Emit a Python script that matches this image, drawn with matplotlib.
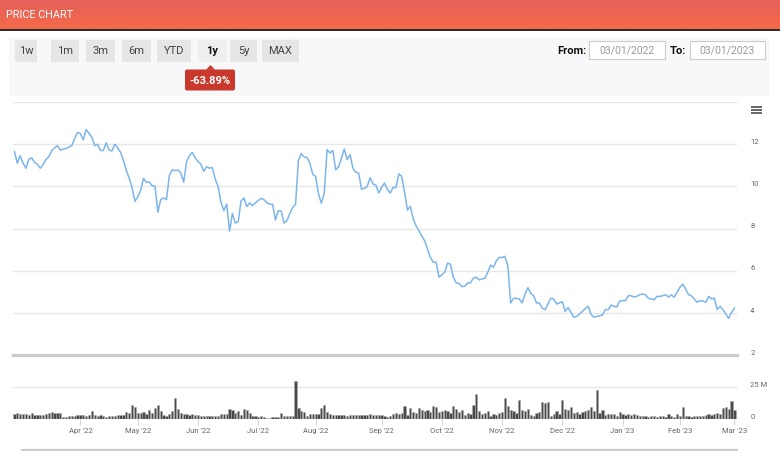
import numpy as np
import pandas as pd
import matplotlib.pyplot as plt
from matplotlib.patches import Rectangle, FancyBboxPatch, Polygon
from matplotlib.colors import LinearSegmentedColormap
from matplotlib.transforms import ScaledTranslation

plt.rcParams['font.family'] = ['Roboto', 'DejaVu Sans']

# ---- data -------------------------------------------------------------
# daily close, one value per trading day 2022-03-01 .. 2023-03-01
close = [
    11.66, 11.10, 11.45, 11.10, 10.86, 11.27, 11.35, 11.14, 11.05, 10.86,
    11.03, 11.27, 11.41, 11.69, 11.82, 11.93, 11.72, 11.76, 11.80, 11.86,
    11.93, 12.27, 12.56, 12.50, 12.21, 12.69, 12.52, 12.33, 11.93, 11.99,
    11.70, 11.70, 12.07, 11.72, 11.68, 12.00, 11.83, 11.61, 11.22, 10.76,
    10.38, 9.95, 9.29, 9.50, 9.81, 10.38, 10.19, 10.21, 10.03, 10.00,
    8.77, 9.37, 9.45, 9.37, 10.50, 10.79, 10.74, 10.78, 10.63, 10.19,
    11.17, 11.45, 11.61, 11.36, 11.17, 11.05, 10.71, 10.93, 10.86, 10.89,
    10.35, 10.00, 9.24, 8.85, 9.16, 7.87, 8.72, 8.26, 8.32, 9.30,
    9.45, 9.04, 9.21, 9.08, 9.21, 9.33, 9.43, 9.37, 9.22, 9.15,
    9.15, 8.40, 8.85, 8.83, 8.26, 8.37, 8.72, 9.00, 9.15, 11.22,
    11.55, 11.39, 11.36, 11.10, 10.57, 10.47, 9.64, 9.20, 9.67, 11.74,
    11.58, 11.70, 10.79, 10.92, 11.33, 11.77, 11.27, 11.50, 10.86, 10.67,
    10.63, 9.87, 9.90, 10.00, 10.41, 10.11, 10.06, 9.68, 9.95, 10.16,
    9.86, 9.68, 9.95, 9.94, 10.59, 10.47, 9.71, 8.88, 9.05, 8.48,
    8.13, 7.90, 7.65, 7.42, 7.03, 6.63, 6.40, 6.40, 5.69, 5.80,
    5.92, 6.36, 6.30, 5.69, 5.42, 5.40, 5.24, 5.26, 5.42, 5.42,
    5.65, 5.69, 5.56, 5.61, 5.64, 5.92, 6.27, 6.16, 6.47, 6.63,
    6.62, 6.68, 6.24, 4.47, 4.69, 4.69, 4.66, 4.47, 4.89, 5.19,
    4.92, 4.81, 4.47, 4.47, 4.22, 4.15, 4.42, 4.69, 4.66, 4.42,
    4.47, 4.53, 4.07, 4.26, 4.02, 3.79, 3.83, 3.94, 4.07, 4.20,
    4.31, 3.94, 3.79, 3.83, 3.86, 3.90, 4.15, 4.15, 4.37, 4.31,
    4.28, 4.56, 4.58, 4.58, 4.81, 4.81, 4.75, 4.78, 4.86, 4.89,
    4.86, 4.69, 4.66, 4.62, 4.78, 4.78, 4.81, 4.86, 4.75, 4.85,
    4.74, 4.97, 5.21, 5.37, 5.13, 4.86, 4.81, 4.66, 4.50, 4.58,
    4.56, 4.50, 4.78, 4.66, 4.69, 4.15, 4.31, 4.15, 3.94, 3.74,
    4.02, 4.22,
]

# daily volume in millions
volume_m = [
    3.6, 4.3, 3.6, 4.1, 3.9, 2.8, 4.8, 3.0, 3.2, 3.4,
    3.3, 3.6, 4.3, 5.8, 4.8, 4.6, 4.5, 1.8, 1.5, 2.0,
    2.2, 2.5, 3.0, 2.8, 3.0, 2.6, 3.3, 6.5, 3.2, 2.5,
    3.0, 2.2, 1.8, 2.0, 2.6, 2.4, 2.9, 3.0, 3.2, 5.5,
    5.0, 11.0, 9.0, 5.0, 5.0, 5.3, 4.0, 7.0, 5.0, 8.4,
    11.3, 6.0, 3.0, 2.0, 4.0, 6.3, 16.3, 7.9, 4.5, 3.8,
    4.2, 3.5, 4.0, 3.3, 2.8, 2.5, 2.2, 2.0, 2.4, 2.0,
    2.3, 2.6, 3.8, 4.2, 3.6, 7.9, 7.1, 4.5, 6.1, 3.0,
    7.9, 7.1, 4.5, 2.0, 2.6, 1.3, 2.2, 1.5, 1.0, 0.8,
    1.8, 1.2, 1.5, 4.5, 2.6, 2.2, 2.6, 2.4, 30.0, 8.7,
    6.1, 5.3, 2.6, 3.9, 3.9, 3.9, 3.9, 8.7, 11.0, 5.3,
    3.9, 3.2, 3.4, 3.0, 2.8, 3.2, 2.6, 3.0, 3.4, 3.1,
    2.8, 3.3, 3.0, 2.9, 3.6, 2.8, 3.2, 3.4, 3.0, 2.5,
    1.8, 2.5, 4.0, 4.5, 4.0, 4.4, 10.0, 3.4, 8.4, 5.3,
    4.5, 8.4, 7.1, 6.1, 7.1, 5.5, 10.0, 9.2, 5.3, 6.1,
    7.1, 6.1, 4.5, 10.0, 7.9, 5.3, 7.1, 3.4, 4.5, 3.9,
    11.3, 19.7, 6.1, 3.9, 4.5, 6.1, 2.6, 3.9, 3.4, 4.5,
    5.3, 16.6, 10.5, 7.1, 6.1, 4.5, 15.0, 7.1, 6.1, 7.9,
    3.4, 2.6, 4.5, 5.3, 13.1, 12.3, 13.1, 2.6, 3.9, 6.1,
    3.9, 15.0, 7.9, 7.1, 9.2, 4.5, 5.3, 3.9, 5.3, 6.6,
    7.1, 9.2, 6.1, 23.0, 4.5, 7.1, 3.4, 3.9, 3.9, 3.9,
    2.6, 5.3, 3.9, 3.4, 3.9, 3.4, 3.6, 2.8, 2.6, 2.0,
    2.4, 1.8, 2.6, 2.2, 1.8, 2.0, 2.4, 1.6, 3.9, 2.6,
    1.8, 3.9, 2.0, 9.2, 2.6, 2.2, 1.8, 2.6, 2.0, 2.4,
    2.0, 3.0, 3.9, 3.2, 3.9, 4.5, 3.9, 8.4, 9.2, 7.9, 14.0, 7.1,
]

holidays = ['2022-04-15', '2022-05-30', '2022-06-20', '2022-07-04', '2022-09-05',
            '2022-11-24', '2022-12-26', '2023-01-02', '2023-01-16', '2023-02-20']
buttons = ['1w', '1m', '3m', '6m', 'YTD', '1y', '5y', 'MAX']
selected = '1y'
change_label = '-63.89%'
date_from, date_to = '03/01/2022', '03/01/2023'
price_ticks = [2, 4, 6, 8, 10, 12]

days = pd.bdate_range('2022-03-01', '2023-03-01')
days = days[~days.isin(pd.to_datetime(holidays))]
idx = np.arange(len(days))
month_starts = pd.date_range('2022-04-01', '2023-03-01', freq='MS')
month_idx = [int(np.searchsorted(days, m)) for m in month_starts]
month_lbl = [m.strftime("%b '%y") for m in month_starts]

# ---- layout helpers (pixels) -----------------------------------------
W, H = 780, 452
fig = plt.figure(figsize=(W / 100, H / 100), dpi=100)
fig.patch.set_facecolor('white')


def box(x0, y0, x1, y1):
    return [x0 / W, 1 - y1 / H, (x1 - x0) / W, (y1 - y0) / H]


bg = fig.add_axes([0, 0, 1, 1])
bg.set_xlim(0, W)
bg.set_ylim(H, 0)
bg.axis('off')

# header bar
grad = LinearSegmentedColormap.from_list('hdr', ['#e3605b', '#f6694a'])
bg.imshow(np.linspace(0, 1, 30)[:, None], cmap=grad, extent=(0, W, 30, 0), aspect='auto')
bg.add_patch(Rectangle((0, 30), W, 2.2, color='#2d2d2d', lw=0))
bg.text(6, 15.5, 'PRICE CHART', color='white', fontsize=7.8, va='center', ha='left')

# range selector panel
bg.add_patch(Rectangle((9, 38), 760, 59, color='#f7f8fa', lw=0))
btn_x = [(15, 37), (51, 79), (86, 115), (122, 151), (157, 191), (198, 227), (230, 257), (262, 299)]
for lab, (x0, x1) in zip(buttons, btn_x):
    sel = lab == selected
    bg.add_patch(Rectangle((x0, 40.5), x1 - x0, 22, color='#efefef' if sel else '#e6e6e6', lw=0))
    bg.text((x0 + x1) / 2, 51.5, lab, fontsize=8, ha='center', va='center',
            color='#111111' if sel else '#444444', fontweight='bold' if sel else 'normal')

# change badge
bg.add_patch(FancyBboxPatch((185, 70.5), 50, 21, boxstyle='round,pad=0,rounding_size=2',
                            color='#c9382d', lw=0))
bg.add_patch(Polygon([(206, 70.8), (210.5, 66), (215, 70.8)], closed=True, color='#c9382d', lw=0))
bg.text(210, 81.5, change_label, color='white', fontsize=8, fontweight='bold', ha='center', va='center')

# date inputs
bg.text(586, 50.5, 'From:', fontsize=8, fontweight='bold', ha='right', va='center', color='#111111')
bg.text(686, 50.5, 'To:', fontsize=8, fontweight='bold', ha='right', va='center', color='#111111')
for (x0, x1), txt in zip([(588.5, 664.5), (689.5, 765)], [date_from, date_to]):
    bg.add_patch(Rectangle((x0, 41.5), x1 - x0, 18.5, facecolor='white', edgecolor='#cccccc', lw=0.8))
    bg.text((x0 + x1) / 2, 51, txt, fontsize=7.5, ha='center', va='center', color='#999999')

# menu icon
for yy in (107.5, 110.5, 113.5):
    bg.plot([751, 762], [yy, yy], color='#666666', lw=1.4, solid_capstyle='butt')

# bottom separator
bg.plot([22, 737], [451, 451], color='#cccccc', lw=1.6)

shift_up = ScaledTranslation(0, 3.8 / 100, fig.dpi_scale_trans)

# ---- price pane --------------------------------------------------------
ax = fig.add_axes(box(13, 103, 737, 356))
ax.set_facecolor('none')
ax.set_xlim(-0.5, len(days) - 0.1)
ax.set_ylim(2, 14)
for v in [4, 6, 8, 10, 12, 14]:
    ax.axhline(v, color='#e6e6e6', lw=1, zorder=0)
ax.axhline(2, color='#cccccc', lw=2.4, zorder=0, clip_on=False)
ax.plot(idx, close, color='#7cb5ec', lw=1.1, zorder=3)
for s in ax.spines.values():
    s.set_visible(False)
ax.set_xticks([])
ax.yaxis.tick_right()
ax.set_yticks(price_ticks)
ax.set_yticklabels([str(t) for t in price_ticks])
ax.tick_params(axis='y', length=0, pad=9.5, labelsize=5.5, labelcolor='#666666')
for lab in ax.get_yticklabels():
    lab.set_transform(lab.get_transform() + shift_up)

# ---- volume pane -------------------------------------------------------
axv = fig.add_axes(box(13, 378, 737, 420))
axv.set_facecolor('none')
axv.set_xlim(ax.get_xlim())
axv.set_ylim(0, 25 * 42 / 32)
axv.axhline(25, color='#e6e6e6', lw=1, zorder=0)
axv.bar(idx, volume_m, width=0.78, color='#4a4a4a', edgecolor='#a8a8a8', linewidth=0.4, zorder=3)
for s in axv.spines.values():
    s.set_visible(False)
axv.yaxis.tick_right()
axv.set_yticks([0, 25])
axv.set_yticklabels(['0', '25 M'])
axv.tick_params(axis='y', length=0, pad=9.5, labelsize=5.5, labelcolor='#666666')
for lab in axv.get_yticklabels():
    lab.set_transform(lab.get_transform() + shift_up)
axv.set_xticks(month_idx)
axv.set_xticklabels(month_lbl)
axv.tick_params(axis='x', length=4, width=0.8, color='#ccd6eb', pad=2,
                labelsize=5.5, labelcolor='#666666')

fig.savefig('out.png', dpi=100)
